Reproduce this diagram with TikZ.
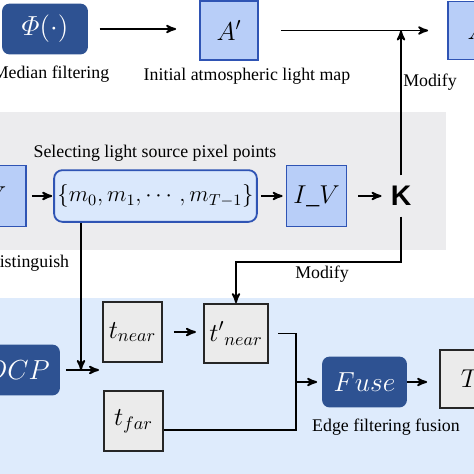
\documentclass[tikz,border=0pt]{standalone}
\usepackage{fix-cm}
\usepackage{amsmath}
\usepackage{fontspec}
\setmainfont{Liberation Serif}
\newfontfamily\ksans{Liberation Sans}
\usepackage{tikz}
\usetikzlibrary{arrows}

\definecolor{darkblue}{RGB}{46,82,146}
\definecolor{boxblue}{RGB}{184,206,248}
\definecolor{edgeblue}{RGB}{47,84,180}
\definecolor{paleblue}{RGB}{218,232,252}
\definecolor{bandblue}{RGB}{222,235,252}
\definecolor{bandgray}{RGB}{236,236,238}
\definecolor{boxgray}{RGB}{235,235,235}

\tikzset{
	opbox/.style={draw=darkblue, fill=darkblue, rounded corners=4pt, text=white, minimum width=50.4pt, minimum height=29.4pt, font=\fontsize{16.5}{19}\selectfont},
	mapbox/.style={draw=edgeblue, fill=boxblue, minimum width=36pt, minimum height=36.6pt, font=\fontsize{15.5}{18}\selectfont},
	setbox/.style={draw=edgeblue, fill=paleblue, rounded corners=5pt, minimum width=119pt, minimum height=31pt, inner xsep=2pt, font=\fontsize{13.6}{16}\selectfont},
	tbox/.style={draw=black!85, fill=boxgray, minimum width=35.4pt, minimum height=36pt, font=\fontsize{15.5}{18}\selectfont},
	caption/.style={font=\fontsize{10.7}{13}\selectfont},
}

\begin{document}
\begin{tikzpicture}[->, >=stealth', x=0.6pt, y=-0.6pt, line width=1.1pt]
		\fill[-, bandgray] (0,112) rectangle (446,250);
		\fill[-, bandblue] (0,298) rectangle (474,474);
		\useasboundingbox (0,0) rectangle (474,474);

		% top row
		\node[opbox]                         (phi)     at (45,29)    {$\varPhi(\cdot)$};
		\node[caption]                       (median)  at (51,74)    {Median filtering};
		\node[mapbox, minimum width=34.8pt, minimum height=35.4pt] (Ap) at (229,30.5) {$A'$};
		\node[caption]                       (initmap) at (247,76)   {Initial atmospheric light map};
		\node[mapbox, minimum width=34.8pt, minimum height=34.8pt] (Af) at (477,30.5) {$A$};
		\node[caption]                       (mod1)    at (430,82)   {Modify};

		% middle row
		\node[mapbox]                        (V)       at (-4,196)   {$V$};
		\node[caption]                       (dist)    at (28,263)   {Distinguish};
		\node[setbox]                        (mset)    at (155.5,196) {$\{m_0, m_1, \cdots, m_{T-1}\}$};
		\node[caption]                       (select)  at (155,153)  {Selecting light source pixel points};
		\node[mapbox, right of=mset, node distance=96.6pt] (IV) {$I\_V$};
		\node[font=\ksans\bfseries\fontsize{17}{20}\selectfont, inner xsep=1pt, inner ysep=6pt] (K) at (401,196) {K};
		\node[caption]                       (mod2)    at (322,274)  {Modify};
		\coordinate (kmod)  at (401,262);

		% bottom row
		\node[opbox]                         (dcp)     at (17,370)   {$DCP$};
		\coordinate (split) at (81,370);
		\coordinate (tin)   at (99,370);
		\node[tbox]                          (tnear)   at (132.5,332) {$t_{near}$};
		\node[tbox]                          (tfar)    at (133.5,421) {$t_{far}$};
		\node[tbox, minimum width=38.4pt, minimum height=35.4pt] (tpn) at (236,333.5) {${t'}_{near}$};
		\coordinate (merge) at (296,382);
		\node[opbox, minimum width=49.8pt]   (fuse)    at (364.5,382) {$Fuse$};
		\node[caption]                       (edge)    at (386,427)  {Edge filtering fusion};
		\node[tbox, minimum width=36pt, minimum height=34.8pt] (T) at (470,379) {$T$};

		% connectors
		\draw[shorten <=7pt, shorten >=13.8pt] (phi.east) -- (phi.east -| Ap.west);
		\draw[shorten <=13.2pt, shorten >=11.4pt] (Ap.east) -- (Ap.east -| Af.west);
		\draw (K.north) -- (K.north |- Ap.east);
		\draw[shorten <=3pt, shorten >=0.6pt] (V.east) -- (mset.west);
		\draw[shorten <=1.8pt, shorten >=1.8pt] (mset.east) -- (IV.west);
		\draw[shorten <=6.6pt, shorten >=4pt] (IV.east) -- (K.west);
		\draw (K.south) -- (kmod) -| (tpn.north);
		\draw (split |- mset.south) -- (split);
		\draw[shorten <=3.6pt] (dcp.east) -- (tin);
		\draw[shorten <=6.6pt, shorten >=4.2pt] (tnear.east) -- (tnear.east -| tpn.west);
		\draw[-, shorten <=5.4pt] (tpn.east) -| (merge) |- ([yshift=-5.4pt]tfar.east);
		\draw[shorten >=3pt] (merge) -- (fuse.west);
		\draw[shorten >=7.2pt] (fuse.east) -- (fuse.east -| T.west);
\end{tikzpicture}
\end{document}
